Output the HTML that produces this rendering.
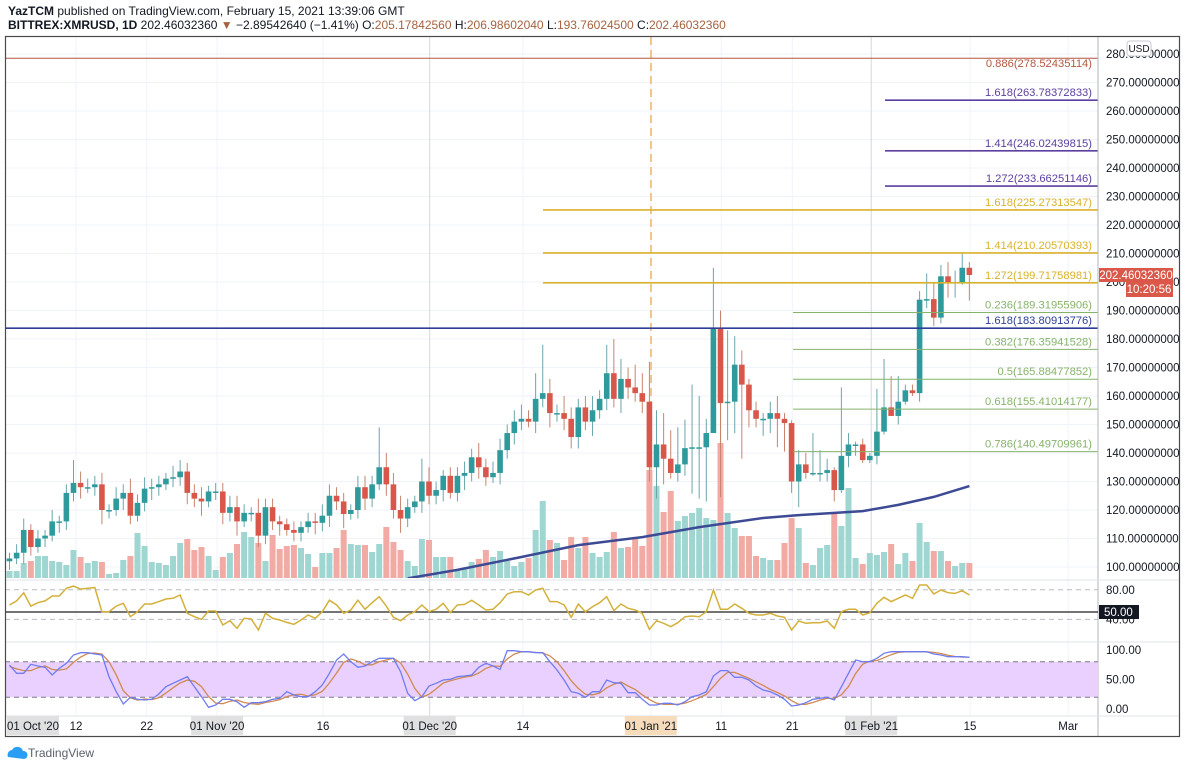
<!DOCTYPE html>
<html><head><meta charset="utf-8"><style>
html,body{margin:0;padding:0;background:#fff;width:1185px;height:768px;overflow:hidden;font-family:"Liberation Sans",sans-serif;}
.hdr{position:absolute;left:8px;font-size:12px;color:#131722;white-space:nowrap}
.v{color:#a5623f}
</style></head><body>
<div class="hdr" style="top:4px"><b>YazTCM</b> published on TradingView.com, February 15, 2021 13:39:06 GMT</div>
<div class="hdr" style="top:18px"><b>BITTREX:XMRUSD, 1D</b> 202.46032360 <span class="v">▼</span> −2.89542640 (−1.41%) O:<span class="v">205.17842560</span> H:<span class="v">206.98602040</span> L:<span class="v">193.76024500</span> C:<span class="v">202.46032360</span></div>
<svg id="chart" width="1185" height="768" style="position:absolute;left:0;top:0" font-family="Liberation Sans, sans-serif"></svg>
<script>
const closes=[103,105,113,107,110,111,116,116,126,129.5,128,128,129,120,120,124,126,118,122.5,127.5,128,129,131,131.5,133.5,126,124,123,126.5,126.5,119,121,116,119,119,111,121,116,115,113,112,114,116,115.5,118,
125,123,118.6,120,128,124,129,135,129,120,117,121,123,130,125,127,132,126,132,133,138.5,135,131.5,133,141,147,151,152,151,159,161,154,154,152,145.6,156,151,155,159,168,159,166,163,161,158,135,
143,138,133,136,141.7,142,142,147,184,157.5,158,171,164,155,152,152,154,152,150.5,130,136,133,133,133,134,127,139,143,143,137.5,139,147.5,156,153,158,162,161,193.8,194,187.5,202,199.5,200,205,202.4603236];
const firstOpen=102;
const wickUp=[2,3,4,2,3,2,4,2,3,8,4,3,3,4,2,4,3,5,3,4,3,3,2,4,4,3,3,4,2,3,3,4,4,3,2,5,3,3,2,2,3,2,3,3,4,4,3,3,2,4,4,3,14,5,4,5,3,2,8,5,3,2,3,3,4,3,5,3,4,4,3,4,5,3,9,17,5,3,6,4,3,4,5,3,10,12,7,4,8,7,14,12,11,10,13,10,22,18,5,21,6,25,10,5,2,3,2,4,6,2,1,5,4,14,8,4,1,24,4,1,2,1,15,17,11,9,2,2,3,9,6,4,5,4,5,2];
const wickDn=[3,2,4,3,2,3,2,4,3,3,4,2,3,5,3,2,4,3,2,3,4,3,2,3,3,4,3,5,2,3,4,3,5,2,3,4,3,3,4,2,3,3,2,4,3,4,3,5,2,3,4,3,2,4,3,5,3,2,4,3,3,4,2,3,5,3,4,3,2,4,3,4,3,2,4,3,5,3,4,4,4,3,5,3,4,3,5,4,3,4,5,11,9,2,3,4,16,18,19,0,33,13,11,26,6,3,6,5,10,10,4,9,2,1,3,3,4,1,4,4,1,1,3,1,0,3,1,1,3,3,3,2,5,5,1,9];
const vols=[7,7,15,17,22,22,17,16,13,28,21,15,17,16,4,5,18,22,45,32,16,15,13,22,35,39,28,31,22,8,21,25,34,46,41,35,17,43,29,32,33,30,24,11,25,
25,30,48,34,33,33,26,34,51,36,28,17,12,39,38,21,21,21,9,9,16,19,28,21,27,17,12,16,20,48,77,38,35,18,41,30,41,25,21,26,46,30,31,41,32,108,
92,66,87,57,62,65,70,60,58,135,65,50,42,42,22,20,18,18,35,60,50,15,13,30,33,64,52,90,20,14,25,23,26,34,14,25,17,55,36,27,27,17,12,15,15];
const maIdx=[56,63,72,80,89,97,106,111,120,125,130,135];
const maVal=[96,99,103.5,107.7,110.5,114,117.2,118.2,119.6,121.8,124.6,128.4];
const rsi=[59.5,65,76,58,62.6,65,71.6,71.6,82,85,81,82,83,50.4,50.4,58,61.7,43.7,50.4,60.8,60.8,64,67.6,68.5,73,48.2,43.7,40,51.3,51.3,32.4,38.3,28,41.5,40.5,25.7,48.2,41.5,39.2,36,33.4,39.2,46,41.5,50.4,66,59.5,48.2,52.7,66,53.6,62.6,70.7,58,42.8,38.3,46,50.4,59.5,50.4,53.6,61.7,49,59.5,60.3,66,59.5,52.7,53.6,62.6,
74.3,77.4,77.4,73,79.7,82,64,64,59.5,42.8,60.8,50.4,57.2,62.6,70.7,51.8,60.8,55,52.7,48.2,26.6,38.3,34.7,30.1,35.5,43.7,44.6,43.7,50.4,79.7,53.6,53.6,60.8,55,48.2,46,46,48.2,44.6,42.8,25.7,37.9,34.7,35.5,35.5,37.9,28,50.4,53.6,53.6,46,49,61.7,69.8,64,68.5,73,68.5,86.5,86.5,74.3,79.7,76.1,75.2,78.8,73];
const stochK=[74.6,60.5,60.5,75.7,72.9,70.6,57.6,69,77.4,91.5,95.5,95.5,93.2,91.5,54.8,29.4,8.5,19.8,16.4,15.3,16.4,25.4,37.8,43.5,49.2,54.8,37.8,20.9,2.8,6.8,16.4,16.4,12.4,2.8,10.7,10.7,12.4,16.4,18.1,29.4,23.7,20.9,20.9,29.4,40.7,60.5,83,93.2,80.2,70.6,72.9,80.2,85.9,85.9,85.9,63.3,26.6,14.1,20.9,39,43.5,49.2,50.3,54.8,55.9,57.6,70.6,77.4,72.9,67.2,
98.8,98.8,97.2,97.2,95.5,95.5,80.2,66.1,49.2,29.4,26.6,19.8,29.4,29.4,49.2,44.6,43.5,27.7,27.7,16.4,6.8,6.8,9.6,9.6,6.8,12.4,20.9,23.7,29.4,55.9,65,65,53.7,53.7,49.2,39,32.2,29.4,23.7,16.4,5.1,6.8,10.7,16.4,18.1,19.8,15.3,37.8,60.5,83,80.2,80.2,85.9,94.4,97.2,97.2,97.2,97.2,97.2,97.2,93.2,91.5,88.7,88.7,88.7,87.6];
const stochD=[72,68,65,65,70,73,67,66,68,79,88,94,95,93,80,58,31,19,15,17,16,19,27,36,44,49,47,38,21,10,9,13,15,11,9,8,11,13,16,21,24,25,22,24,30,44,61,79,85,81,75,75,80,83,86,78,59,35,20,25,34,44,48,51,54,56,61,69,73,72,
85,93,97,97,96,95,90,80,65,48,35,25,24,27,36,42,46,39,33,24,16,10,8,8,8,10,14,19,25,38,52,62,62,57,52,46,40,33,28,22,14,8,8,11,15,18,18,24,38,60,76,81,82,87,92,96,97,97,97,97,96,94,91,89,88,88];
const priceTicks=[100,110,120,130,140,150,160,170,180,190,200,210,220,230,240,250,260,270,280];
const fibPrices=[278.52435114,263.78372833,246.02439815,233.66251146,225.27313547,210.20570393,199.71758981,189.31955906,183.80913776,176.35941528,165.88477852,155.41014177,140.49709961];
const fibRatios=["0.886","1.618","1.414","1.272","1.618","1.414","1.272","0.236","1.618","0.382","0.5","0.618","0.786"];
const fibGroup=["red","purple","purple","purple","gold","gold","gold","green","blue","green","green","green","green"];
const timeLabels=["01 Oct '20","12","22","01 Nov '20","16","01 Dec '20","14","01 Jan '21","11","21","01 Feb '21","15","Mar"];
const timeDays=[-1.7,9.35,19.3,29.2,44.1,59.1,72.2,90.2,100.1,110.1,121.2,135.1,148.9];

const NS="http://www.w3.org/2000/svg";
const svg=document.getElementById('chart');
function mk(tag,attrs,parent){const e=document.createElementNS(NS,tag);for(const k in attrs)e.setAttribute(k,attrs[k]);(parent||svg).appendChild(e);return e;}
const X=i=>9.5+i*7.11;
const Y=p=>567-(p-100)*2.85;
const YR=v=>612-(v-50)*0.74;
const YS=v=>709-v*0.59;
const L=5,R=1098;

priceTicks.forEach(p=>{const g=mk('line',{x1:L,x2:R,y1:Y(p),y2:Y(p),stroke:'#f0f3fa'});

});
timeDays.forEach((d,k)=>{const strong=(k==5||k==10);const g=mk('line',{x1:X(d),x2:X(d),y1:37,y2:716,stroke:strong?'#d6d8de':'#f0f3fa'});

});

const ny=mk('line',{x1:651,x2:651,y1:37,y2:578,stroke:'#f0c690','stroke-width':2,'stroke-dasharray':'8,5'});



const clip=mk('clipPath',{id:'pc'});mk('rect',{x:L,y:37,width:R-L,height:541},clip);
const main=mk('g',{'clip-path':'url(#pc)'});


let prev=firstOpen;
closes.forEach((c,i)=>{const o=prev;prev=c;const up=c>=o;const v=vols[i];
const b=mk('rect',{x:X(i)-3,y:578-v,width:6,height:v,fill:up?'#9fd6d1':'#f2aaa4'},main);

});

let d='';maIdx.forEach((ix,k)=>{d+=(k?'L':'M')+X(ix).toFixed(1)+' '+Y(maVal[k]).toFixed(1);});
const ma=mk('path',{d:d,fill:'none',stroke:'#3d4a94','stroke-width':2.5},main);



const fcol={red:'#b5573f',purple:'#5c3f9e',gold:'#d9b22b',green:'#86b36a',blue:'#2e3e98'};
const fstart={red:5,purple:885,gold:543,green:793,blue:5};
fibPrices.forEach((p,k)=>{const c=fcol[fibGroup[k]];const y=Y(p);
const ln=mk('line',{x1:fstart[fibGroup[k]],x2:R,y1:y,y2:y,stroke:c,'stroke-width':(fibGroup[k]=='blue'||fibGroup[k]=='gold'||fibGroup[k]=='purple')?1.6:1});


const t=mk('text',{x:1092,y:(fibGroup[k]=='red'?y+9:y-4),'text-anchor':'end','font-size':11.2,fill:c});
t.textContent=fibRatios[k]+'('+p.toFixed(8)+')';

});

prev=firstOpen;
closes.forEach((c,i)=>{const o=prev;prev=c;const up=c>=o;const col=up?'#2f9a9c':'#d9574a';
const hi=Math.max(o,c)+wickUp[i],lo=Math.min(o,c)-wickDn[i];
const w=mk('line',{x1:X(i),x2:X(i),y1:Y(hi),y2:Y(lo),stroke:up?'#6aa6ab':'#c7856e','stroke-width':1},main);


const top=Y(Math.max(o,c)),h=Math.max(1.5,Y(Math.min(o,c))-top);
const b=mk('rect',{x:X(i)-2.8,y:top,width:5.6,height:h,fill:col},main);

});

const ax=mk('line',{x1:R,x2:R,y1:37,y2:736,stroke:'#b2b5be'});


priceTicks.forEach(p=>{const t=mk('text',{x:1106,y:Y(p)+4,'font-size':11.5,fill:'#131722'});t.textContent=p.toFixed(8);

});
const usd=mk('rect',{x:1127,y:41,width:24,height:15,rx:3,fill:'#fff',stroke:'#c8cad0'});


const ut=mk('text',{x:1139,y:52,'font-size':10,'text-anchor':'middle',fill:'#131722'});ut.textContent='USD';


const last=closes[closes.length-1];
const pb=mk('rect',{x:1099,y:Y(last)-7,width:74,height:14,fill:'#d9584a'});


const pt=mk('text',{x:1136,y:Y(last)+4,'font-size':11.5,'text-anchor':'middle',fill:'#fff'});pt.textContent=last.toFixed(8);


const tb=mk('rect',{x:1126,y:Y(last)+7,width:47,height:15,fill:'#d9584a'});


const tt=mk('text',{x:1149,y:Y(last)+18,'font-size':11.5,'text-anchor':'middle',fill:'#fff'});tt.textContent='10:20:56';



[580,642,716].forEach(y=>{const s=mk('line',{x1:L,x2:1179,y1:y,y2:y,stroke:'#e0e3eb'});

});

[80,40].forEach(v=>{const s=mk('line',{x1:L,x2:R,y1:YR(v),y2:YR(v),stroke:'#b8bbc4','stroke-dasharray':'5,4'});

});
const r50=mk('line',{x1:L,x2:R,y1:YR(50),y2:YR(50),stroke:'#222','stroke-width':1.3});


d='';rsi.forEach((v,i)=>{d+=(i?'L':'M')+X(i).toFixed(1)+' '+YR(v).toFixed(1);});
const rl=mk('path',{d:d,fill:'none',stroke:'#d4b03a','stroke-width':1.5});


const r80=mk('text',{x:1106,y:YR(80)+4,'font-size':11.5,fill:'#131722'});r80.textContent='80.00';


const r40=mk('text',{x:1106,y:YR(40)+4,'font-size':11.5,fill:'#131722'});r40.textContent='40.00';


const rb=mk('rect',{x:1099,y:YR(50)-7,width:40,height:14,fill:'#131722'});


const rbt=mk('text',{x:1104,y:YR(50)+4,'font-size':11.5,fill:'#fff'});rbt.textContent='50.00';



const sf=mk('rect',{x:L,y:YS(80),width:R-L,height:YS(20)-YS(80),fill:'#ead0ff'});


[80,20].forEach(v=>{const s=mk('line',{x1:L,x2:R,y1:YS(v),y2:YS(v),stroke:'#787b86','stroke-dasharray':'5,4'});

});
d='';stochD.forEach((v,i)=>{d+=(i?'L':'M')+X(i).toFixed(1)+' '+YS(v).toFixed(1);});
const sd=mk('path',{d:d,fill:'none',stroke:'#d08a52','stroke-width':1.3});


d='';stochK.forEach((v,i)=>{d+=(i?'L':'M')+X(i).toFixed(1)+' '+YS(v).toFixed(1);});
const sk=mk('path',{d:d,fill:'none',stroke:'#6f7cf0','stroke-width':1.3});


[[100,'100.00'],[50,'50.00'],[0,'0.00']].forEach(a=>{const t=mk('text',{x:1106,y:YS(a[0])+4,'font-size':11.5,fill:'#131722'});t.textContent=a[1];

});

timeLabels.forEach((lab,k)=>{let x=X(timeDays[k]);const box=lab.length>4;
if(k==0)x=33;
if(box){const bg=mk('rect',{x:x-26,y:716,width:52,height:19,fill:k==7?'#f7dcbc':'#e0e0e0'});

}
const t=mk('text',{x:x,y:730,'font-size':11.5,'text-anchor':'middle',fill:'#131722'});t.textContent=lab;

});

const fr=mk('rect',{x:5.5,y:36.5,width:1174,height:700,fill:'none',stroke:'#4a4a4a','stroke-width':1.2});



const lg=mk('path',{d:'M8 757 a5 5 0 0 1 4 -7 a6 6 0 0 1 11 1 a4 4 0 0 1 1 8 z',fill:'#2a9df4'});


const lt=mk('text',{x:28,y:757,'font-size':12,fill:'#5d606b'});lt.textContent='TradingView';


</script>
</body></html>
